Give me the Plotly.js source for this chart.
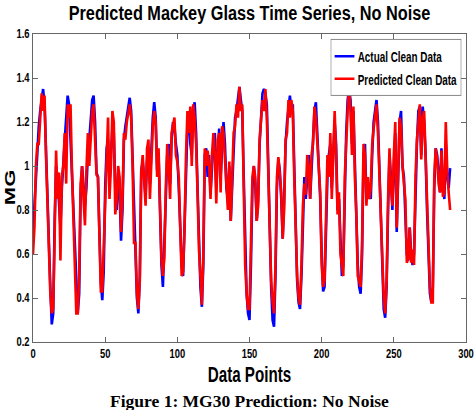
<!DOCTYPE html>
<html>
<head>
<meta charset="utf-8">
<script src="https://cdn.plot.ly/plotly-3.0.1.min.js"></script>
<style>
  html, body { margin: 0; padding: 0; background: #fff; }
  #chart { width: 474px; height: 410px; }
</style>
</head>
<body>
<div id="chart"></div>
<script>
// Mackey Glass series (index 0..289)
const actualClean = [
  0.70, 0.82, 0.95, 1.10, 1.18, 1.25, 1.30, 1.35, 1.28, 1.05,
  0.85, 0.62, 0.45, 0.28, 0.33, 0.75, 1.00, 0.95, 0.82, 0.72,
  0.90, 1.03, 1.12, 1.22, 1.32, 1.28, 1.12, 0.98, 0.80, 0.60,
  0.42, 0.33, 0.42, 0.88, 1.00, 0.90, 0.82, 0.90, 1.05, 1.12,
  1.20, 1.30, 1.32, 1.20, 0.97, 0.95, 0.70, 0.47, 0.39, 0.52,
  0.90, 1.08, 1.12, 0.92, 1.05, 1.17, 1.15, 0.90, 0.80, 0.97,
  0.88, 0.66, 0.80, 1.12, 1.18, 1.22, 1.28, 1.31, 1.25, 1.05,
  0.80, 0.55, 0.40, 0.33, 0.50, 0.98, 1.02, 0.95, 0.86, 1.02,
  1.08, 0.92, 1.10, 1.22, 1.29, 1.22, 0.98, 1.05, 0.80, 0.55,
  0.45, 0.62, 0.85, 1.05, 1.10, 0.92, 1.12, 1.20, 1.18, 1.10,
  1.05, 0.90, 0.70, 0.55, 0.50, 0.70, 1.00, 1.18, 1.25, 1.10,
  1.05, 1.25, 1.29, 1.15, 0.90, 0.65, 0.45, 0.36, 0.55, 1.05,
  1.08, 0.95, 1.05, 0.88, 1.00, 1.10, 1.15, 0.90, 1.05, 1.17,
  0.95, 1.10, 1.20, 1.10, 0.90, 0.85, 1.00, 0.75, 0.90, 1.12,
  1.22, 1.25, 1.30, 1.36, 1.30, 1.25, 0.95, 0.60, 0.42, 0.33,
  0.30, 0.55, 0.90, 1.00, 0.92, 0.75, 0.85, 1.10, 1.25, 1.33,
  1.35, 1.33, 1.28, 1.00, 0.70, 0.45, 0.30, 0.27, 0.50, 0.90,
  1.03, 0.98, 0.85, 0.67, 0.85, 1.10, 1.20, 1.28, 1.32, 1.25,
  1.28, 1.00, 0.70, 0.48, 0.38, 0.35, 0.50, 0.80, 0.95, 0.85,
  0.98, 1.05, 0.85, 1.00, 1.15, 1.25, 1.29, 1.15, 1.00, 0.85,
  0.60, 0.43, 0.45, 0.75, 0.95, 1.05, 1.10, 0.90, 1.05, 1.20,
  1.10, 0.80, 0.85, 0.65, 0.50, 0.55, 0.90, 1.15, 1.30, 1.35,
  1.30, 1.10, 1.25, 1.00, 0.80, 0.55, 0.45, 0.42, 0.60, 1.05,
  1.10, 0.85, 0.92, 0.88, 0.85, 1.05, 1.20, 1.25, 1.30, 1.20,
  1.00, 0.75, 0.50, 0.35, 0.31, 0.45, 0.80, 1.05, 0.95, 0.80,
  1.00, 1.15, 0.70, 1.00, 1.20, 1.25, 1.00, 0.95, 0.80, 0.60,
  0.57, 0.72, 0.60, 0.55, 0.60, 0.90, 1.10, 1.25, 1.27, 1.05,
  1.27, 1.20, 1.05, 0.80, 0.55, 0.42, 0.38, 0.45, 0.90, 1.08,
  1.05, 0.95, 0.88, 1.08, 0.90, 0.85, 1.10, 0.95, 0.90, 0.99
];

const predictedClean = [
  0.60, 0.72, 1.00, 1.10, 1.10, 1.22, 1.33, 1.25, 1.32, 1.05,
  0.85, 0.60, 0.42, 0.33, 0.35, 0.68, 1.07, 0.85, 0.97, 0.57,
  0.95, 1.00, 1.15, 0.92, 1.28, 1.22, 1.28, 0.98, 0.75, 0.55,
  0.33, 0.33, 0.50, 0.92, 1.00, 0.85, 0.73, 0.98, 1.15, 1.00,
  1.12, 1.25, 1.28, 1.12, 0.96, 0.95, 0.62, 0.43, 0.43, 0.62,
  0.88, 1.10, 1.22, 0.85, 1.00, 1.25, 1.20, 0.78, 0.85, 1.00,
  0.95, 0.70, 0.85, 1.15, 1.12, 1.20, 1.25, 1.28, 1.22, 1.00,
  0.65, 0.65, 0.42, 0.35, 0.48, 0.97, 1.05, 0.90, 0.82, 1.08,
  1.12, 0.85, 1.05, 1.18, 1.25, 1.20, 0.95, 1.08, 0.82, 0.58,
  0.50, 0.58, 0.90, 1.10, 1.00, 0.85, 1.15, 1.18, 1.22, 1.05,
  1.02, 0.95, 0.65, 0.50, 0.52, 0.72, 1.05, 1.25, 1.15, 1.27,
  1.00, 1.28, 1.22, 1.10, 0.88, 0.62, 0.50, 0.37, 0.60, 1.08,
  1.00, 1.07, 1.00, 0.85, 1.05, 1.15, 1.05, 0.83, 1.12, 1.15,
  0.88, 1.18, 1.15, 1.05, 0.95, 0.80, 1.02, 0.75, 0.95, 1.15,
  1.18, 1.28, 1.22, 1.36, 1.25, 1.28, 0.90, 0.55, 0.42, 0.35,
  0.35, 0.60, 0.95, 1.00, 0.95, 0.75, 0.82, 1.12, 1.20, 1.30,
  1.25, 1.35, 1.22, 0.95, 0.68, 0.48, 0.38, 0.33, 0.55, 0.95,
  1.04, 0.95, 0.88, 0.67, 0.80, 1.12, 1.15, 1.30, 1.22, 1.30,
  1.25, 0.95, 0.70, 0.50, 0.40, 0.37, 0.55, 0.82, 0.92, 0.87,
  1.05, 1.00, 0.85, 1.05, 1.10, 1.27, 1.22, 1.10, 0.95, 0.88,
  0.55, 0.45, 0.48, 0.80, 1.05, 0.95, 1.15, 0.85, 1.08, 1.25,
  1.05, 0.78, 0.88, 0.60, 0.55, 0.50, 0.95, 1.12, 1.25, 1.36,
  1.25, 1.05, 1.27, 0.95, 0.78, 0.50, 0.47, 0.45, 0.65, 1.10,
  1.05, 0.82, 0.95, 0.85, 0.90, 1.10, 1.17, 1.22, 1.28, 1.15,
  0.97, 0.72, 0.55, 0.40, 0.33, 0.48, 0.85, 1.08, 0.90, 0.82,
  1.05, 1.20, 0.72, 1.05, 1.22, 1.18, 1.00, 0.92, 0.85, 0.56,
  0.58, 0.72, 0.56, 0.62, 0.55, 0.95, 1.12, 1.20, 1.28, 1.03,
  1.22, 1.25, 1.03, 0.78, 0.58, 0.45, 0.38, 0.38, 0.95, 1.08,
  1.03, 0.92, 0.88, 1.07, 0.86, 0.88, 1.20, 0.98, 0.88, 0.80
];

const xTicks = [0, 50, 100, 150, 200, 250, 300];
const yTicks = [0.2, 0.4, 0.6, 0.8, 1, 1.2, 1.4, 1.6];

const idx = actualClean.map((v, i) => i);

// the figure uses a squeezed bold sans; no condensed face is installed,
// so text is drawn in Liberation Sans and narrowed after render
const sans = 'Liberation Sans, Arial, sans-serif';

const traces = [
  {
    x: idx, y: actualClean, type: 'scatter', mode: 'lines',
    name: 'Actual Clean Data',
    line: { color: '#0000ff', width: 2.6 }
  },
  {
    x: idx, y: predictedClean, type: 'scatter', mode: 'lines',
    name: 'Predicted Clean Data',
    line: { color: '#ff0000', width: 2.6 }
  }
];

const axisCommon = {
  showgrid: false,
  zeroline: false,
  showline: true,
  linecolor: '#666',
  linewidth: 1,
  mirror: 'ticks',
  ticks: 'inside',
  ticklen: 5,
  tickcolor: '#666',
  ticklabeloverflow: 'allow',
  tickfont: { family: sans, size: 12.5, color: '#000', weight: 'bold' }
};

const layout = {
  width: 474, height: 410,
  margin: { l: 33, r: 8, t: 34, b: 68 },
  paper_bgcolor: '#fff', plot_bgcolor: '#fff',
  showlegend: true,
  title: {
    text: 'Predicted Mackey Glass Time Series, No Noise',
    font: { family: sans, size: 21, color: '#000', weight: 'bold' },
    x: 0.5, xref: 'paper', xanchor: 'center',
    y: 0.97, yref: 'container', yanchor: 'middle'
  },
  xaxis: Object.assign({}, axisCommon, {
    range: [0, 300], tickvals: xTicks, ticktext: xTicks.map(String)
  }),
  yaxis: Object.assign({}, axisCommon, {
    range: [0.2, 1.6], tickvals: yTicks, ticktext: yTicks.map(String)
  }),
  legend: {
    x: 0.99, y: 0.984, xanchor: 'right', yanchor: 'top',
    bgcolor: '#fff', bordercolor: '#888', borderwidth: 1,
    font: { family: sans, size: 15, color: '#000', weight: 'bold' },
    itemwidth: 30,
    tracegroupgap: 0
  },
  annotations: [
    {
      text: 'Data Points', showarrow: false,
      xref: 'paper', yref: 'paper', x: 0.5, y: -0.107,
      xanchor: 'center', yanchor: 'middle',
      font: { family: sans, size: 22, color: '#000', weight: 'bold' }
    },
    {
      text: 'MG', showarrow: false, textangle: -90,
      xref: 'paper', yref: 'paper', x: -0.055, y: 0.5,
      xanchor: 'center', yanchor: 'middle',
      font: { family: sans, size: 22, color: '#000', weight: 'bold' }
    },
    {
      text: 'Figure 1: MG30 Prediction: No Noise', showarrow: false,
      xref: 'paper', yref: 'paper', x: 0.5, y: -0.19,
      xanchor: 'center', yanchor: 'middle',
      font: { family: 'Liberation Serif, Times New Roman, serif', size: 17.5, color: '#000', weight: 'bold' }
    }
  ]
};

// squeeze a text horizontally around its anchor
function squeezeX(el, s) {
  const b = el.getBBox();
  const anchor = el.getAttribute('text-anchor') || 'start';
  let cx = b.x + b.width / 2;
  if (anchor === 'end') cx = b.x + b.width;
  if (anchor === 'start') cx = b.x;
  const old = el.getAttribute('transform') || '';
  el.setAttribute('transform', old + ' translate(' + cx + ',0) scale(' + s + ',1) translate(' + (-cx) + ',0)');
}

Plotly.newPlot('chart', traces, layout, { displayModeBar: false, staticPlot: true }).then(function (gd) {
  gd.querySelectorAll('.xtick text, .ytick text').forEach(t => squeezeX(t, 0.75));

  const title = gd.querySelector('.gtitle');
  if (title) squeezeX(title, 362 / title.getBBox().width);

  const ann = gd.querySelectorAll('.annotation-text');
  if (ann[0]) squeezeX(ann[0], 0.69);
  if (ann[1]) {
    // rotated label: squeeze along its own y so the screen x gets narrower
    const b = ann[1].getBBox();
    const cy = b.y + b.height / 2;
    const old = ann[1].getAttribute('transform') || '';
    ann[1].setAttribute('transform', old + ' translate(0,' + cy + ') scale(1,0.7) translate(0,' + (-cy) + ')');
  }

  // narrow the whole legend box, keep its right edge in place
  const leg = gd.querySelector('.legend');
  const bg = leg && leg.querySelector('.bg');
  if (leg && bg) {
    const w = parseFloat(bg.getAttribute('width'));
    const s = 130 / w;
    const m = /translate\(([-\d.]+)[ ,]+([-\d.]+)\)/.exec(leg.getAttribute('transform'));
    const lx = parseFloat(m[1]), ly = parseFloat(m[2]);
    const right = lx + w;
    leg.setAttribute('transform', 'translate(' + (right - 130) + ',' + ly + ') scale(' + s + ',1)');
  }
});
</script>
</body>
</html>
